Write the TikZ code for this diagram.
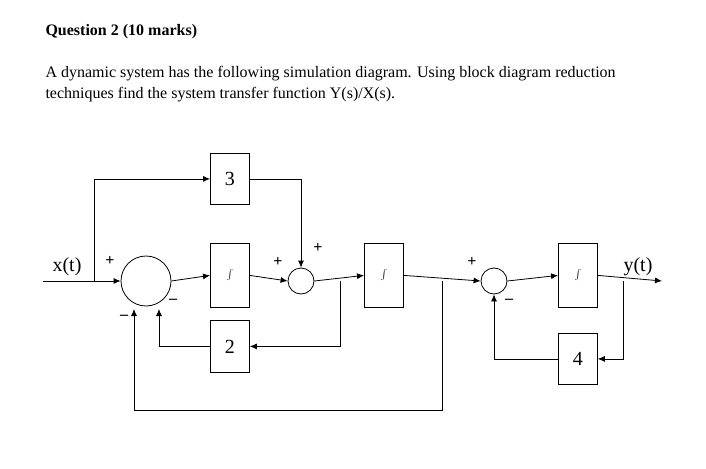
\documentclass[tikz,border=0pt]{standalone}
\usepackage{fontspec}
\setmainfont{Liberation Serif}
\usetikzlibrary{arrows.meta}
\begin{document}
\begin{tikzpicture}[x=1pt,y=-1pt,
  blk/.style={draw,line width=0.8pt,minimum width=39pt,anchor=north west,inner sep=0pt,font=\fontsize{20}{20}\selectfont},
  sum/.style={draw,circle,line width=0.8pt,inner sep=0pt},
  ln/.style={line width=0.8pt},
  ar/.style={ln,-{Latex[length=7pt,width=6pt]}},
  sg/.style={font=\fontsize{16}{16}\selectfont\bfseries}]
\useasboundingbox (0,0) rectangle (706,468);
\node[anchor=base west,font=\fontsize{16}{18}\selectfont\bfseries] (title) at (42,36) {Question 2 (10 marks)};
\node[anchor=base west,font=\fontsize{16}{18}\selectfont] (l1) at (42,78) {A dynamic system has the following simulation diagram. Using block diagram reduction};
\node[anchor=base west,font=\fontsize{16}{18}\selectfont] (l2) at (42,99) {techniques find the system transfer function Y(s)/X(s).};
% blocks
\node[blk,minimum height=51pt] (b3) at (210,153) {3};
\node[blk,minimum height=64pt] (i1) at (210,243) {$\int$};
\node[blk,minimum height=52pt] (b2) at (210,320) {2};
\node[blk,minimum height=64pt] (i2) at (364,243) {$\int$};
\node[blk,minimum height=64pt] (i3) at (558,243) {$\int$};
\node[blk,minimum height=51pt] (b4) at (558,333) {4};
\node[sum,minimum size=50pt] (s1) at (146,281) {};
\node[sum,minimum size=26pt] (s2) at (301,281) {};
\node[sum,minimum size=26pt] (s3) at (494,281) {};
\coordinate (in) at (43,281);
\coordinate (br1) at (94,281);
\coordinate (br2) at (340,281);
\coordinate (br3) at (442,281);
\coordinate (br4) at (623,281);
\coordinate (out) at (662,281);
% connectors
\draw[ar] (in) -- (s1.west);
\draw[ar] (br1) |- (b3.west);
\draw[ar] (s1.east) -- (i1.west);
\draw[ar] (i1.east) -- (s2.west);
\draw[ar] (b3.east) -| (s2.north);
\draw[ar] (s2.east) -- (i2.west);
\draw[ar] (br2) |- (b2.east);
\draw[ar] (b2.west) -| (159,309);
\draw[ar] (i2.east) -- (s3.west);
\draw[ar] (br3) |- (134,410) -- (134,309);
\draw[ar] (s3.east) -- (i3.west);
\draw[ar] (i3.east) -- (out);
\draw[ar] (br4) |- (b4.east);
\draw[ar] (b4.west) -| (s3.south);
\draw[ln] (br1) -- ++(0,0);
% labels
\node[font=\fontsize{20}{20}\selectfont] (xl) at (67,267) {x(t)};
\node[font=\fontsize{20}{20}\selectfont] (yl) at (638,267) {y(t)};
\node[sg] (p1) at (110,261) {+};
\node[sg] (m1) at (124,317) {--};
\node[sg] (m2) at (173,301) {--};
\node[sg] (p2) at (278,262) {+};
\node[sg] (p3) at (318,248) {+};
\node[sg] (p4) at (472,262) {+};
\node[sg] (m3) at (509,301) {--};
\end{tikzpicture}
\end{document}
